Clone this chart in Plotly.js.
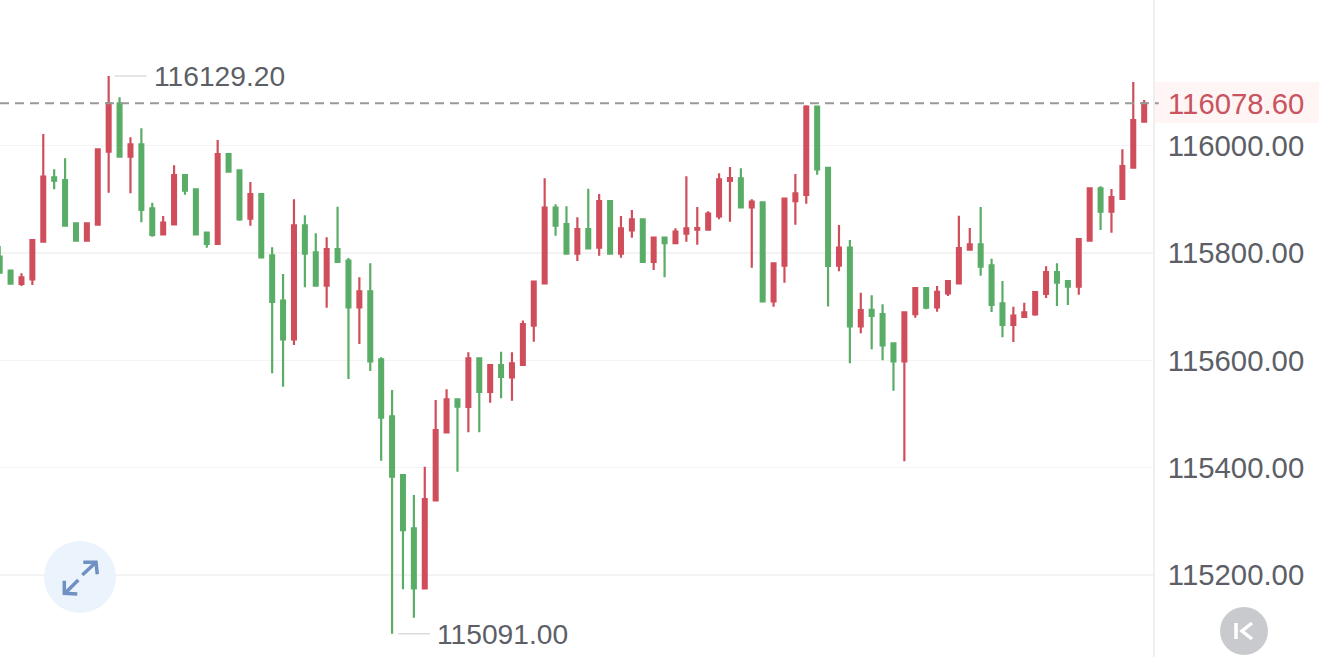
<!DOCTYPE html>
<html>
<head>
<meta charset="utf-8">
<script src="https://cdn.plot.ly/plotly-3.0.1.min.js"></script>
<style>html,body{margin:0;padding:0;background:#fff;overflow:hidden}#c{width:1319px;height:657px}</style>
</head>
<body>
<div id="c"></div>
<script>
const opens = [115792.9,115766.9,115742.1,115750.8,115820.9,115940.8,115935.7,115855.1,115822.7,115852.5,
115988.4,116078.6,115979.1,116002.2,115883,115834.6,115853.3,115945.1,115918.4,115837.6,
115816.6,115984.2,115953.8,115863.7,115909.7,115795.5,115711,115639.1,115851.4,115801.1,
115738.9,115807.3,115785.5,115698.7,115728.5,115601.9,115495.7,115386.4,115287.2,115175.5,
115339.3,115466,115527.4,115513.1,115603.7,115541,115591.3,115568.4,115591.3,115664.4,
115743.4,115884.2,115853.8,115798.5,115844.5,115809.7,115896.6,115798.5,115842.1,115862.6,
115783.1,115828.3,115818.4,115835.7,115843.2,115843.2,115868.2,115933.9,115938.9,115884.9,
115894.2,115709.9,115776.2,115896.6,115907.8,116072.2,115958.6,115776.2,115809.7,115663.3,
115694.2,115686.2,115631.7,115598.2,115686.2,115734.6,115698.7,115724.8,115743.4,115806,
115816,115776.9,115706.2,115665.8,115680.7,115685.7,115723.5,115764.4,115747.7,115737.1,
115822.7,115920.3,115876.7,115900.4,115958.6,116044.3];
const highs = [115812.9,115766.9,115762,115824,116021.4,115955.7,115976.1,115855.1,115855.1,115994.8,
116129.2,116089.7,116015.2,116032,115893.5,115868.7,115963.1,115945.1,115918.4,115837.6,
116010.2,115984.2,115953.8,115932,115909.7,115810.4,115760.7,115899.8,115870,115836.5,
115829,115886,115790.5,115754.6,115780.6,115605.6,115544.7,115386.4,115349.2,115401.9,
115526.1,115546,115527.4,115614.9,115603.7,115591.3,115616,115614.9,115674.1,115748.2,
115938.9,115890.5,115886.8,115866.3,115919.5,115909.7,115896.6,115868.7,115879.9,115862.6,
115828.3,115828.3,115845.8,115942.6,115885.5,115877.5,115948.2,115959.9,115957.5,115899.8,
115894.2,115782.5,115900.9,115946.9,116074.8,116072.2,115958.6,115851.9,115824,115725.9,
115721.1,115704.3,115631.7,115689.4,115734.6,115734.6,115738.4,115749.5,115869.3,115846.4,
115885.5,115789.2,115747.7,115699.8,115707.3,115727.2,115775.1,115780.6,115747.7,115825.9,
115920.3,115924,115919,115992.9,116118.2,116084.7];
const lows = [115763.1,115742.7,115738.4,115740.2,115820.9,115918.4,115848.8,115822.7,115822.7,115852.5,
115912.1,115979.1,115911,115857,115830.2,115834.6,115853.3,115908.4,115834.6,115809.7,
115816.6,115951.2,115860,115850.6,115791.8,115575.8,115550.9,115628.5,115736,115738.9,
115698,115783.1,115565.2,115630.4,115580.1,115413.1,115091,115173.6,115120.7,115175.5,
115339.3,115464.1,115392.6,115466,115466,115521.1,115529.3,115524.8,115591.3,115634.7,
115743.4,115832,115798.5,115784.9,115808.6,115794.8,115798.5,115791.1,115828.3,115783.1,
115768.2,115754.6,115818.4,115820.9,115815.3,115843.2,115862.6,115858.1,115884.9,115772.4,
115709.9,115699.8,115744.5,115852.5,115891.6,115945.6,115700.2,115765.7,115594.4,115650.3,
115620.5,115600,115543.4,115412,115679.3,115695,115690.5,115719.8,115743.4,115806,
115757.5,115690,115642.9,115634.1,115680.7,115683.1,115716,115701.1,115703,115722.2,
115822.7,115842.6,115837.6,115900.4,115958.6,116044.3];
const closes = [115763.1,115742.7,115754.6,115824,115941.9,115934.4,115850.6,115822.7,115855.1,115992.9,
116078.6,115979.1,116002.2,115879.9,115833.3,115856.2,115945.1,115915.8,115834.6,115816.6,
115984.2,115951.2,115862.6,115909.7,115791.8,115708.6,115639.1,115851.4,115798.5,115738.9,
115807.3,115783.1,115698.7,115728.5,115598.2,115493.1,115383.3,115284,115175.5,115341.8,
115470.2,115527.4,115513.6,115603.7,115541,115591.3,115568.9,115594.4,115667.6,115746.4,
115884.2,115850.6,115798.5,115844.5,115808.6,115896.6,115798.5,115845.8,115862.6,115783.1,
115828.3,115818.4,115839.5,115845.8,115846.4,115873,115937,115939.5,115884.9,115895.3,
115709.9,115780.6,115900.9,115911,116072.2,115955.7,115775.6,115809.7,115663.3,115693.7,
115682.5,115628,115598.2,115689.4,115734.6,115698,115727.7,115747.7,115809.1,115816,
115774.3,115703,115665.8,115683.1,115689.4,115727.2,115764.4,115744.5,115737.1,115825.9,
115920.3,115876.7,115904.1,115961.8,116047.5,116078.6];
const tickValues = [115200,115400,115600,115800,116000];
const tickLabels = ["115200.00","115400.00","115600.00","115800.00","116000.00"];
const lastPrice = 116078.6;
const lastPriceLabel = "116078.60";
const highIndex = 10, highValue = 116129.2, highLabel = "116129.20";
const lowIndex = 36, lowValue = 115091, lowLabel = "115091.00";

const W = 1319, H = 657, PLOT_W = 1153;
const font = '"Liberation Sans", Arial, sans-serif';
const RED = '#d04e5b', GREEN = '#59ad66', TEXT = '#5c6066';
const px = (x, y) => (x / PLOT_W).toFixed(5) + ',' + ((H - y) / H).toFixed(5);
const pathOf = pts => 'M' + pts.map(p => px(p[0], p[1])).join('L');
const iconLine = (pts, color, w) => ({type:'path', xref:'paper', yref:'paper', layer:'above',
  path: pathOf(pts), line:{color:color, width:w}});
const disc = (cx, cy, r, color) => ({type:'circle', xref:'paper', yref:'paper', layer:'above',
  x0:(cx-r)/PLOT_W, x1:(cx+r)/PLOT_W, y0:(H-cy-r)/H, y1:(H-cy+r)/H, fillcolor:color, line:{width:0}});
const lead = (idx, val) => ({type:'line', xref:'x', yref:'y', xsizemode:'pixel', xanchor:idx,
  x0:6, x1:38, y0:val, y1:val, line:{color:'#dcdcdc', width:1.5}});

const x = opens.map((_, i) => i);
const trace = {type:'candlestick', x:x, open:opens, high:highs, low:lows, close:closes,
  whiskerwidth:0, hoverinfo:'skip',
  increasing:{line:{color:RED, width:2.2}, fillcolor:RED},
  decreasing:{line:{color:GREEN, width:2.2}, fillcolor:GREEN}};

const layout = {
  width:W, height:H, paper_bgcolor:'#fff', plot_bgcolor:'#fff', showlegend:false,
  margin:{l:0, r:W-PLOT_W, t:0, b:0, pad:0}, boxgap:0.5,
  font:{family:font, color:TEXT},
  xaxis:{visible:false, type:'linear', range:[0.03,105.81], rangeslider:{visible:false}, fixedrange:true},
  yaxis:{side:'right', range:[115047.6,116270.9], autorange:false, tickmode:'array',
    tickvals:tickValues, ticktext:tickLabels, ticks:'', ticklabelstandoff:7,
    tickfont:{family:font, size:29.3, color:TEXT}, gridcolor:'#f3f3f3', gridwidth:1.5,
    zeroline:false, showline:true, linecolor:'#efefef', linewidth:2, fixedrange:true},
  shapes:[
    {type:'line', xref:'paper', yref:'y', x0:0, x1:1.005, y0:lastPrice, y1:lastPrice,
      line:{color:'#999999', width:2, dash:'9px,6px'}},
    lead(highIndex, highValue), lead(lowIndex, lowValue),
    {type:'rect', xref:'paper', yref:'paper', layer:'below', x0:1155/PLOT_W, x1:W/PLOT_W,
      y0:(H-123)/H, y1:(H-82)/H, fillcolor:'#fef5f4', line:{width:0}},
    disc(80,577,36,'#ebf3fc'),
    iconLine([[82.3,575],[96,562.3]],'#6f90c2',3.5),
    iconLine([[83.3,562.3],[96,562.3],[97.3,574.3]],'#6f90c2',3.5),
    iconLine([[78.3,580],[65,593.3]],'#6f90c2',3.5),
    iconLine([[64.3,580.7],[64.3,593.3],[77.3,594]],'#6f90c2',3.5),
    disc(1244,631,24,'#c9cacd'),
    iconLine([[1236,623],[1236,639]],'#ffffff',3.5),
    iconLine([[1252,623],[1242,631],[1252,639]],'#ffffff',3.5)
  ],
  annotations:[
    {xref:'x', yref:'y', x:highIndex, y:highValue, xshift:43, xanchor:'left', yanchor:'middle',
      text:highLabel, showarrow:false, font:{family:font, size:28.2, color:TEXT}},
    {xref:'x', yref:'y', x:lowIndex, y:lowValue, xshift:42.5, xanchor:'left', yanchor:'middle',
      text:lowLabel, showarrow:false, font:{family:font, size:28.2, color:TEXT}},
    {xref:'paper', yref:'y', x:1166/PLOT_W, y:lastPrice, xanchor:'left', yanchor:'middle',
      text:lastPriceLabel, showarrow:false, font:{family:font, size:29.3, color:'#c9545f'}}
  ]
};
Plotly.newPlot('c', [trace], layout, {displayModeBar:false, staticPlot:true});
</script>
</body>
</html>
